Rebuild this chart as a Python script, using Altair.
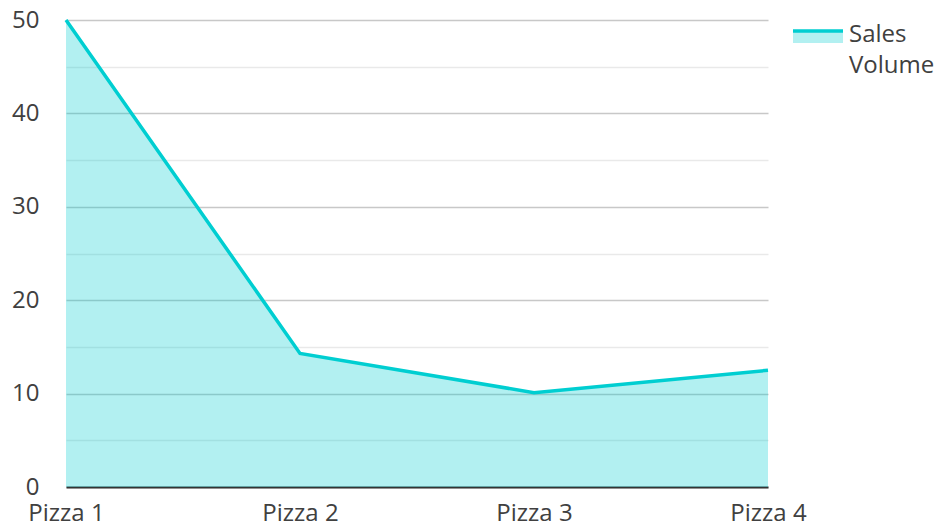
import altair as alt
import pandas as pd

categories = ["Pizza 1", "Pizza 2", "Pizza 3", "Pizza 4"]
sales = [50, 14.3, 10.1, 12.5]
series_name = "Sales Volume"
y_ticks = [0, 5, 10, 15, 20, 25, 30, 35, 40, 45, 50]

COLOR = "#00CED1"
FONT = "Open Sans"
TEXT = "#404040"

df = pd.DataFrame({"pizza": categories, "sales": sales})
legend_df = pd.DataFrame({"label": [series_name]})

x = alt.X(
    "pizza:N",
    sort=categories,
    scale=alt.Scale(type="point", padding=0),
    axis=alt.Axis(
        title=None, labelAngle=0, ticks=False, grid=False,
        domain=True, domainColor="#333333", domainWidth=2,
        labelPadding=14, labelFontSize=24, labelColor=TEXT, labelFont=FONT,
    ),
)
y = alt.Y(
    "sales:Q",
    scale=alt.Scale(domain=[0, 50], nice=False),
    axis=alt.Axis(
        title=None, values=y_ticks, domain=False, ticks=False,
        labelExpr="datum.value % 10 === 0 ? datum.label : ''",
        labelPadding=27, labelFontSize=24, labelColor=TEXT, labelFont=FONT,
        gridColor=alt.condition("datum.value % 10 === 0", alt.value("#c8c8c8"), alt.value("#e9e9e9")),
        gridWidth=1.5,
    ),
)

area = alt.Chart(df).mark_area(color=COLOR, opacity=0.3).encode(x=x, y=y)
line = alt.Chart(df).mark_line(color=COLOR, strokeWidth=3.5).encode(x=x, y=y)

leg_rect = alt.Chart(legend_df).mark_rect(color=COLOR, opacity=0.3).encode(
    x=alt.value(727), x2=alt.value(777), y=alt.value(11), y2=alt.value(23)
)
leg_line = alt.Chart(legend_df).mark_rule(color=COLOR, strokeWidth=3.5).encode(
    x=alt.value(727), x2=alt.value(777), y=alt.value(11)
)
leg_text = alt.Chart(legend_df).mark_text(
    align="left", baseline="alphabetic", fontSize=24, font=FONT, color=TEXT,
    lineBreak=" ", lineHeight=31.5,
).encode(x=alt.value(783), y=alt.value(21.5), text="label:N")

chart = alt.layer(area, line, leg_rect, leg_line, leg_text).properties(
    width=702, height=467,
    autosize=alt.AutoSizeParams(type="none"),
    padding={"left": 58, "top": 12, "right": 168, "bottom": 35},
).configure_view(stroke=None)

chart.save("out.html", embed_options={"renderer": "svg", "actions": False})
